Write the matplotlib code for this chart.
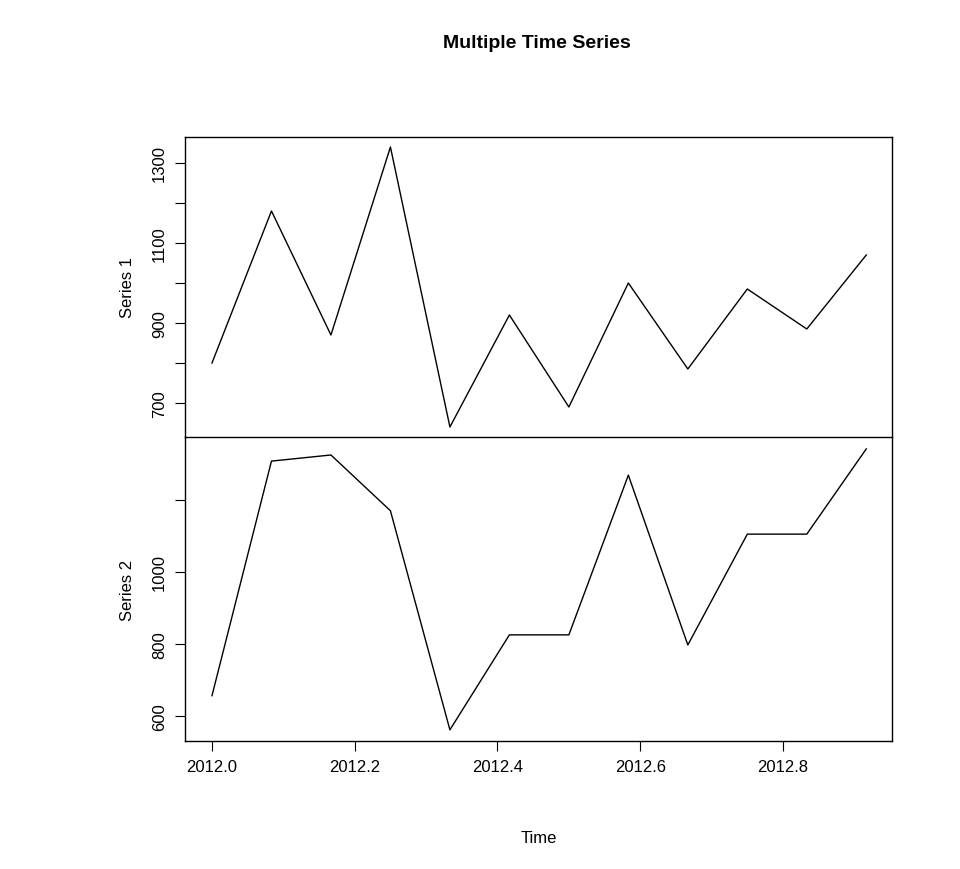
import numpy as np
import matplotlib
matplotlib.use("Agg")
import matplotlib.pyplot as plt

plt.rcParams['font.family'] = ['Liberation Sans', 'DejaVu Sans']

time = 2012 + np.arange(12) / 12.0
series1 = [800, 1180, 870, 1340, 640, 920, 690, 1000, 785, 985, 885, 1070]
series2 = [656, 1308, 1325, 1170, 561, 825, 825, 1269, 797, 1105, 1105, 1342]

W, H = 960, 870
fig = plt.figure(figsize=(W / 100, H / 100), dpi=100)

def ax_at(x0, y0, x1, y1):
    return fig.add_axes([x0 / W, 1 - y1 / H, (x1 - x0) / W, (y1 - y0) / H])

ax1 = ax_at(185, 138, 892, 438)
ax2 = ax_at(185, 438, 892, 742)
ax2.patch.set_visible(False)

xlim = (2011.9622, 2012.9527)

for ax, y in ((ax1, series1), (ax2, series2)):
    ax.plot(time, y, color='black', lw=1)
    ax.set_xlim(*xlim)
    for sp in ax.spines.values():
        sp.set_linewidth(1)
    ax.tick_params(direction='out', length=7, labelsize=12, color='black', pad=6)

ax1.set_ylim(615, 1365)
ax1.set_yticks([700, 800, 900, 1000, 1100, 1200, 1300])
ax1.set_yticklabels(['700', '', '900', '', '1100', '', '1300'], rotation=90, va='center')
ax1.set_xticks([])
ax1.set_ylabel('Series 1', fontsize=12, labelpad=12)

ax2.set_ylim(530, 1375)
ax2.set_yticks([600, 800, 1000, 1200])
ax2.set_yticklabels(['600', '800', '1000', ''], rotation=90, va='center')
ax2.spines['top'].set_visible(False)
ax2.set_xticks([2012.0, 2012.2, 2012.4, 2012.6, 2012.8])
ax2.set_xticklabels(['2012.0', '2012.2', '2012.4', '2012.6', '2012.8'])
ax2.set_ylabel('Series 2', fontsize=12, labelpad=12)
ax2.set_xlabel('Time', fontsize=12, labelpad=40)

fig.text(537 / W, 1 - 43 / H, 'Multiple Time Series', ha='center', va='center',
         fontsize=14, fontweight='bold')

fig.savefig('out.png', dpi=100)
